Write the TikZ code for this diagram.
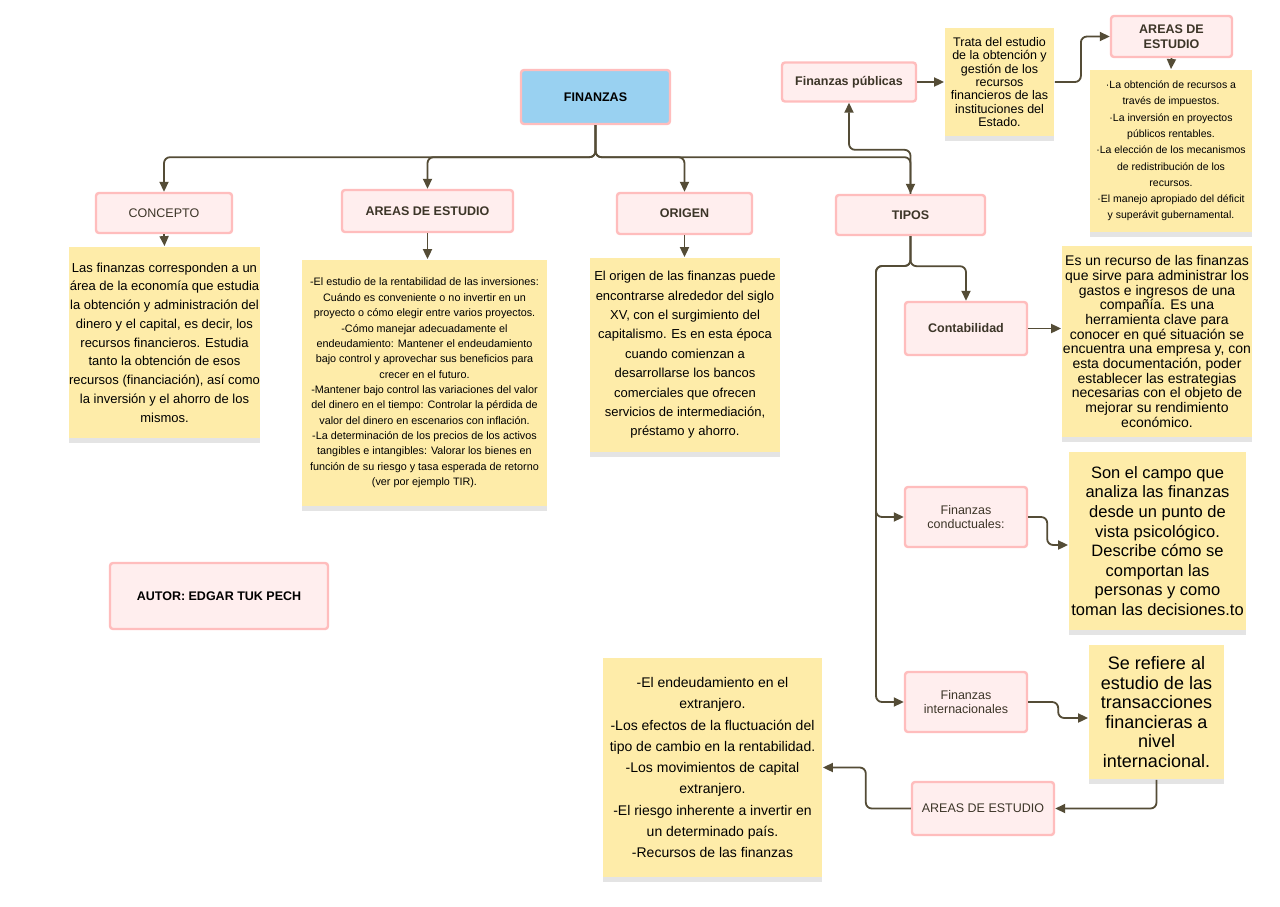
\documentclass[tikz,border=0pt]{standalone}
\usepackage{fontspec}
\setmainfont{Liberation Sans}
\usepackage{tikz}
\usetikzlibrary{arrows.meta,calc,positioning,shadows,shapes}
\definecolor{boxfill}{HTML}{FFEEEE}
\definecolor{boxline}{HTML}{FFBDBD}
\definecolor{finfill}{HTML}{99D1F1}
\definecolor{notefill}{HTML}{FEECA9}
\definecolor{arrowcol}{HTML}{544C36}
\definecolor{boxtext}{HTML}{3C3528}

\begin{document}
\begin{tikzpicture}[x=1pt,y=-1pt,->,>={Triangle[length=10pt,width=9pt]},
line width=1.8pt,rounded corners=6pt]
\tikzstyle{every node}=[rounded corners=3pt]
\tikzstyle{pinkbox}=[draw=boxline,fill=boxfill,line width=2.4pt,text=boxtext,align=center,
font=\fontsize{12.5}{14.5}\selectfont]
\tikzstyle{note}=[fill=notefill,rounded corners=0pt,inner sep=0pt,align=center,text=black,
drop shadow={shadow xshift=0pt,shadow yshift=-5pt,opacity=0.15,fill=black!70}]
\tikzstyle{link}=[draw=arrowcol]

\useasboundingbox[fill=white] (0,0) rectangle (1280,906);

% main topic and first level
\node[pinkbox,fill=finfill,text=black,minimum width=149pt,minimum height=54pt] (fin) at (595.5,97) {\bfseries FINANZAS};
\node[pinkbox,minimum width=136pt,minimum height=40pt] (concepto) at (164,213) {CONCEPTO};
\node[pinkbox,minimum width=171pt,minimum height=42pt] (areas) at (427.5,211) {\bfseries AREAS DE ESTUDIO};
\node[pinkbox,minimum width=135pt,minimum height=41pt] (origen) at (684.5,213.5) {\bfseries ORIGEN};
\node[pinkbox,minimum width=149pt,minimum height=40pt] (tipos) at (910.5,215) {\bfseries TIPOS};

% notes of first level
\node[note,minimum width=191pt,minimum height=191pt,font=\fontsize{13}{18.75}\selectfont] (concnote) at (164.5,342.5)
{Las finanzas corresponden a un\\ área de la economía que estudia\\ la obtención y administración del\\ dinero y el capital, es decir, los\\ recursos financieros. Estudia\\ tanto la obtención de esos\\ recursos (financiación), así como\\ la inversión y el ahorro de los\\ mismos.};
\node[note,minimum width=245pt,minimum height=246pt,font=\fontsize{10.8}{15.36}\selectfont] (areasnote) at (424.5,383)
{-El estudio de la rentabilidad de las inversiones:\\ Cuándo es conveniente o no invertir en un\\ proyecto o cómo elegir entre varios proyectos.\\ -Cómo manejar adecuadamente el\\ endeudamiento: Mantener el endeudamiento\\ bajo control y aprovechar sus beneficios para\\ crecer en el futuro.\\ -Mantener bajo control las variaciones del valor\\ del dinero en el tiempo: Controlar la pérdida de\\ valor del dinero en escenarios con inflación.\\ -La determinación de los precios de los activos\\ tangibles e intangibles: Valorar los bienes en\\ función de su riesgo y tasa esperada de retorno\\ (ver por ejemplo TIR).};
\node[note,minimum width=190pt,minimum height=194pt,font=\fontsize{13}{19.4}\selectfont] (orignote) at (685,355)
{El origen de las finanzas puede\\ encontrarse alrededor del siglo\\ XV, con el surgimiento del\\ capitalismo. Es en esta época\\ cuando comienzan a\\ desarrollarse los bancos\\ comerciales que ofrecen\\ servicios de intermediación,\\ préstamo y ahorro.};

% finanzas publicas
\node[pinkbox,minimum width=134pt,minimum height=39pt] (fpub) at (849,82) {\bfseries Finanzas públicas};
\node[note,minimum width=109pt,minimum height=108pt,font=\fontsize{12.5}{13.3}\selectfont] (fpubnote) at (999.5,82)
{Trata del estudio\\ de la obtención y\\ gestión de los\\ recursos\\ financieros de las\\ instituciones del\\ Estado.};
\node[pinkbox,minimum width=121pt,minimum height=41pt,font=\fontsize{12.5}{15}\selectfont] (fpubareas) at (1171.5,36.5) {\bfseries AREAS DE\\ \bfseries ESTUDIO};
\node[note,minimum width=162pt,minimum height=162pt,font=\fontsize{10.5}{16.3}\selectfont] (fpubareasnote) at (1171,151)
{·La obtención de recursos a\\ través de impuestos.\\ ·La inversión en proyectos\\ públicos rentables.\\ ·La elección de los mecanismos\\ de redistribución de los\\ recursos.\\ ·El manejo apropiado del déficit\\ y superávit gubernamental.};

% tipos
\node[pinkbox,minimum width=122pt,minimum height=53pt] (contab) at (966,328.5) {\bfseries Contabilidad};
\node[note,minimum width=190pt,minimum height=191pt,font=\fontsize{14}{14.7}\selectfont] (contabnote) at (1157,341.5)
{Es un recurso de las finanzas\\ que sirve para administrar los\\ gastos e ingresos de una\\ compañía. Es una\\ herramienta clave para\\ conocer en qué situación se\\ encuentra una empresa y, con\\ esta documentación, poder\\ establecer las estrategias\\ necesarias con el objeto de\\ mejorar su rendimiento\\ económico.};
\node[pinkbox,minimum width=122pt,minimum height=60pt] (conduct) at (966,517) {Finanzas\\ conductuales:};
\node[note,minimum width=177pt,minimum height=178pt,font=\fontsize{16.5}{19.6}\selectfont] (conductnote) at (1157.5,541)
{Son el campo que\\ analiza las finanzas\\ desde un punto de\\ vista psicológico.\\ Describe cómo se\\ comportan las\\ personas y como\\ toman las decisiones.to};
\node[pinkbox,minimum width=122pt,minimum height=60pt] (intern) at (966,702) {Finanzas\\ internacionales};
\node[note,minimum width=135pt,minimum height=134pt,font=\fontsize{18}{19.6}\selectfont] (internnote) at (1156.5,712)
{Se refiere al\\ estudio de las\\ transacciones\\ financieras a\\ nivel\\ internacional.};
\node[pinkbox,minimum width=142pt,minimum height=53pt] (internareas) at (983,808.5) {AREAS DE ESTUDIO};
\node[note,minimum width=219pt,minimum height=219pt,font=\fontsize{14}{21.25}\selectfont] (internareasnote) at (712.5,767.5)
{-El endeudamiento en el\\ extranjero.\\ -Los efectos de la fluctuación del\\ tipo de cambio en la rentabilidad.\\ -Los movimientos de capital\\ extranjero.\\ -El riesgo inherente a invertir en\\ un determinado país.\\ -Recursos de las finanzas};

\node[pinkbox,text=black,minimum width=218pt,minimum height=66pt] (autor) at (219,596) {\bfseries AUTOR: EDGAR TUK PECH};

\coordinate (trunk) at (876,266);

% connectors
\draw[link] (fin.south) -- ++(0,32) -| (concepto.north);
\draw[link] (fin.south) -- ++(0,32) -| (areas.north);
\draw[link] (fin.south) -- ++(0,32) -| (origen.north);
\draw[link] (fin.south) -- ++(0,32) -| (tipos.north);
\draw[link] (concepto.south) -- (concnote.north);
\draw[link] (areas.south) -- (areasnote.north -| areas.south);
\draw[link] (origen.south) -- (orignote.north -| origen.south);
\draw[link] (tipos.north) -- ++(0,-44) -| (fpub.south);
\draw[link] (fpub.east) -- (fpubnote.west);
\draw[link] (fpubnote.east) -- ++(26,0) |- (fpubareas.west);
\draw[link] (fpubareas.south) -- (fpubareasnote.north);
\draw[link] (tipos.south) -- ++(0,30) -| (contab.north);
\draw[link] (tipos.south) |- (trunk) |- (conduct.west);
\draw[link] (tipos.south) |- (trunk) |- (intern.west);
\draw[link] (contab.east) -- (contab.east -| contabnote.west);
\draw[link] (conduct.east) -- ++(19,0) |- ([yshift=-4pt]conductnote.west);
\draw[link] (intern.east) -- ++(30,0) |- ([yshift=-6pt]internnote.west);
\draw[link] (internnote.south) |- (internareas.east);
\draw[link] (internareas.west) -- ++(-45,0) |- (internareasnote.east);

\end{tikzpicture}
\end{document}
